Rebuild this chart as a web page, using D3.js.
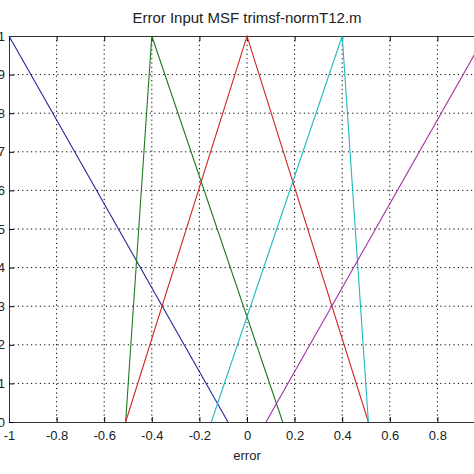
<!DOCTYPE html>
<html>
<head>
<meta charset="utf-8">
<script src="https://cdn.jsdelivr.net/npm/d3@7"></script>
<style>
  body { margin: 0; background: #fff; overflow: hidden; }
  text { font-family: Arial, "Liberation Sans", sans-serif; fill: #222; }
</style>
</head>
<body>
<div id="chart"></div>
<script>
// Membership functions: [x, y] corner points of each line
const blueMf = [[-1, 1], [-0.08, 0]];
const greenMf = [[-0.51, 0], [-0.4, 1], [0.15, 0]];
const redMf = [[-0.51, 0], [0, 1], [0.51, 0]];
const cyanMf = [[-0.15, 0], [0.4, 1], [0.51, 0]];
const magentaMf = [[0.08, 0], [1, 1]];

const seriesNames = ['blue', 'green', 'red', 'cyan', 'magenta'];
const seriesColors = ['#25259a', '#1f7a1f', '#d02828', '#22b8c0', '#a232a8'];

const xTicks = [-1, -0.8, -0.6, -0.4, -0.2, 0, 0.2, 0.4, 0.6, 0.8, 1];
const yTicks = [0, 0.1, 0.2, 0.3, 0.4, 0.5, 0.6, 0.7, 0.8, 0.9, 1];

const titleText = 'Error Input MSF trimsf-normT12.m';
const xLabelText = 'error';

const width = 474;
const height = 474;
// plot box runs off the right edge of the picture, as in the source image
const margin = { top: 36, left: 9, bottom: 52 };
const plotW = 476;
const plotH = height - margin.top - margin.bottom;

const svg = d3.select('#chart').append('svg')
  .attr('width', width)
  .attr('height', height);

const x = d3.scaleLinear().domain([-1, 1]).range([0, plotW]);
const y = d3.scaleLinear().domain([0, 1]).range([plotH, 0]);

const g = svg.append('g')
  .attr('transform', `translate(${margin.left},${margin.top})`);

// dotted grid
g.selectAll('.vgrid')
  .data(xTicks.slice(1, -1))
  .join('line')
  .attr('x1', (d) => x(d)).attr('x2', (d) => x(d))
  .attr('y1', 0).attr('y2', plotH)
  .attr('stroke', '#000')
  .attr('stroke-width', 1)
  .attr('stroke-dasharray', '1.2,3.2');

g.selectAll('.hgrid')
  .data(yTicks.slice(1, -1))
  .join('line')
  .attr('x1', 0).attr('x2', plotW)
  .attr('y1', (d) => y(d)).attr('y2', (d) => y(d))
  .attr('stroke', '#000')
  .attr('stroke-width', 1)
  .attr('stroke-dasharray', '1.2,3.2');

// axes: ticks point inwards like MATLAB
const xAxis = g.append('g')
  .attr('transform', `translate(0,${plotH})`)
  .call(d3.axisBottom(x).tickValues(xTicks).tickSizeInner(-5).tickSizeOuter(0)
    .tickPadding(9).tickFormat((d) => String(d)));
xAxis.select('.domain').attr('stroke', '#333');
xAxis.selectAll('.tick line').attr('stroke', '#000');
xAxis.selectAll('text').style('font-size', '13px').attr('fill', '#222');

const yAxis = g.append('g')
  .call(d3.axisLeft(y).tickValues(yTicks).tickSizeInner(-5).tickSizeOuter(0)
    .tickPadding(4).tickFormat((d) => String(d)));
yAxis.select('.domain').attr('stroke', '#333');
yAxis.selectAll('.tick line').attr('stroke', '#000');
yAxis.selectAll('text').style('font-size', '13px').attr('fill', '#222');

// top border with ticks
const topAxis = g.append('g')
  .call(d3.axisTop(x).tickValues(xTicks).tickSizeInner(-5).tickSizeOuter(0).tickFormat(''));
topAxis.select('.domain').attr('stroke', '#333');
topAxis.selectAll('.tick line').attr('stroke', '#000');

// membership function lines
const line = d3.line().x((d) => x(d[0])).y((d) => y(d[1]));
const allSeries = [blueMf, greenMf, redMf, cyanMf, magentaMf];

g.selectAll('.mf')
  .data(allSeries)
  .join('path')
  .attr('class', (d, i) => `mf ${seriesNames[i]}`)
  .attr('d', line)
  .attr('fill', 'none')
  .attr('stroke', (d, i) => seriesColors[i])
  .attr('stroke-width', 1.1);

// title and axis label, centred on the plot box
svg.append('text')
  .attr('x', margin.left + plotW / 2)
  .attr('y', 23)
  .attr('text-anchor', 'middle')
  .style('font-size', '15px')
  .text(titleText);

svg.append('text')
  .attr('x', margin.left + plotW / 2)
  .attr('y', 460)
  .attr('text-anchor', 'middle')
  .style('font-size', '13px')
  .text(xLabelText);
</script>
</body>
</html>
